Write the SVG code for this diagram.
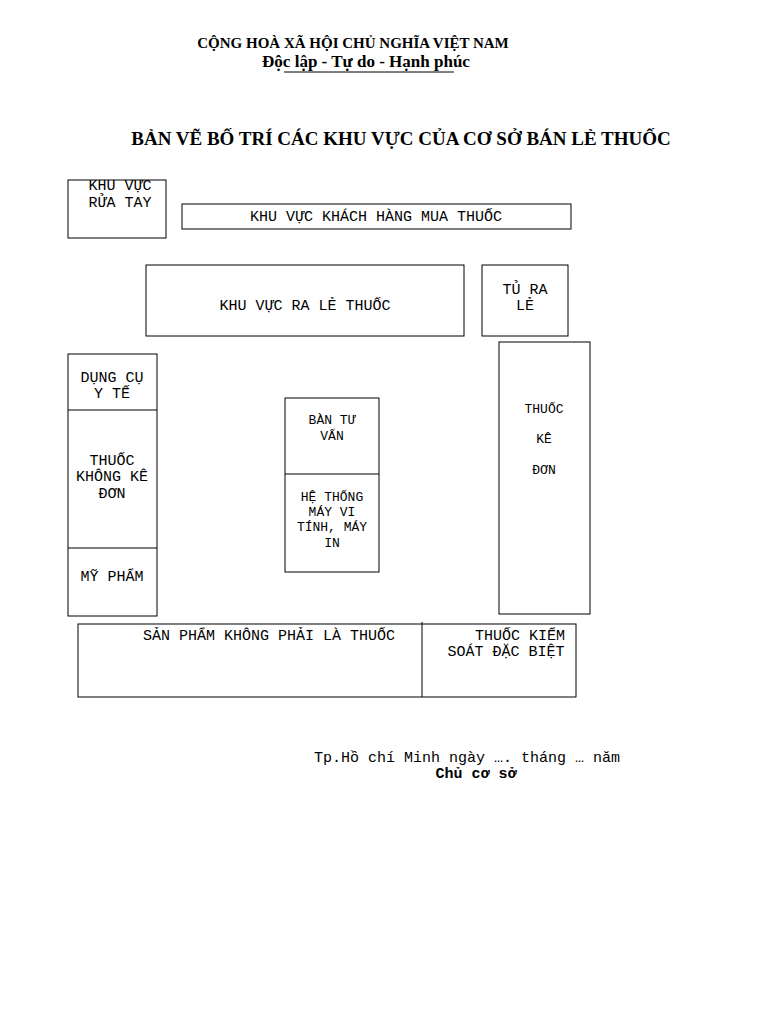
<svg xmlns="http://www.w3.org/2000/svg" width="768" height="1024" viewBox="0 0 768 1024">
<style>
.b{fill:#fff;stroke:#000;stroke-width:1}
.s{font-family:"Liberation Serif",serif;font-weight:bold;fill:#000;text-anchor:middle}
.m{font-family:"Liberation Mono","DejaVu Sans Mono",monospace;font-size:15px;fill:#000;text-anchor:middle}
.sm{font-size:13px}
</style>
<rect width="768" height="1024" fill="#fff"/>
<text class="s" x="353" y="48" font-size="15">CỘNG HOÀ XÃ HỘI CHỦ NGHĨA VIỆT NAM</text>
<text class="s" x="366" y="67" font-size="17">Độc lập - Tự do - Hạnh phúc</text>
<line x1="284" y1="72" x2="454" y2="72" stroke="#000"/>
<text class="s" x="401" y="145" font-size="19">BẢN VẼ BỐ TRÍ CÁC KHU VỰC CỦA CƠ SỞ BÁN LẺ THUỐC</text>
<g id="rua-tay"><rect class="b" x="68" y="180" width="98" height="58"/><text class="m" x="120" y="190">KHU VỰC</text><text class="m" x="120" y="207">RỬA TAY</text></g>
<g id="khach-hang"><rect class="b" x="182" y="204" width="389" height="25"/><text class="m" x="376" y="221">KHU VỰC KHÁCH HÀNG MUA THUỐC</text></g>
<g id="ra-le"><rect class="b" x="146" y="265" width="318" height="71"/><text class="m" x="305" y="310">KHU VỰC RA LẺ THUỐC</text></g>
<g id="tu-ra-le"><rect class="b" x="482" y="265" width="86" height="71"/><text class="m" x="525" y="294">TỦ RA</text><text class="m" x="525" y="310">LẺ</text></g>
<g id="trai"><rect class="b" x="68" y="354" width="89" height="262"/><line x1="68" y1="410" x2="157" y2="410" stroke="#000"/><line x1="68" y1="548" x2="157" y2="548" stroke="#000"/>
<text class="m" x="112" y="382">DỤNG CỤ</text><text class="m" x="112" y="398">Y TẾ</text>
<text class="m" x="112" y="465">THUỐC</text><text class="m" x="112" y="481">KHÔNG KÊ</text><text class="m" x="112" y="498">ĐƠN</text>
<text class="m" x="112" y="581">MỸ PHẨM</text></g>
<g id="giua"><rect class="b" x="285" y="398" width="94" height="174"/><line x1="285" y1="474" x2="379" y2="474" stroke="#000"/>
<text class="m sm" x="332" y="424">BÀN TƯ</text><text class="m sm" x="332" y="440">VẤN</text>
<text class="m sm" x="332" y="501">HỆ THỐNG</text><text class="m sm" x="332" y="516">MÁY VI</text><text class="m sm" x="332" y="531">TÍNH, MÁY</text><text class="m sm" x="332" y="547">IN</text></g>
<g id="ke-don"><rect class="b" x="499" y="342" width="91" height="272"/><text class="m sm" x="544" y="413">THUỐC</text><text class="m sm" x="544" y="443">KÊ</text><text class="m sm" x="544" y="474">ĐƠN</text></g>
<g id="duoi"><rect class="b" x="78" y="624" width="498" height="73"/><line x1="422" y1="622" x2="422" y2="697" stroke="#000"/>
<text class="m" x="269" y="640">SẢN PHẨM KHÔNG PHẢI LÀ THUỐC</text>
<text class="m" x="520" y="640">THUỐC KIỂM</text><text class="m" x="506" y="656">SOÁT ĐẶC BIỆT</text></g>
<text class="m" x="314" y="762" text-anchor="start" style="text-anchor:start">Tp.Hồ chí Minh ngày …. tháng … năm</text>
<text class="m" x="476" y="778" font-weight="bold">Chủ cơ sở</text>
</svg>
